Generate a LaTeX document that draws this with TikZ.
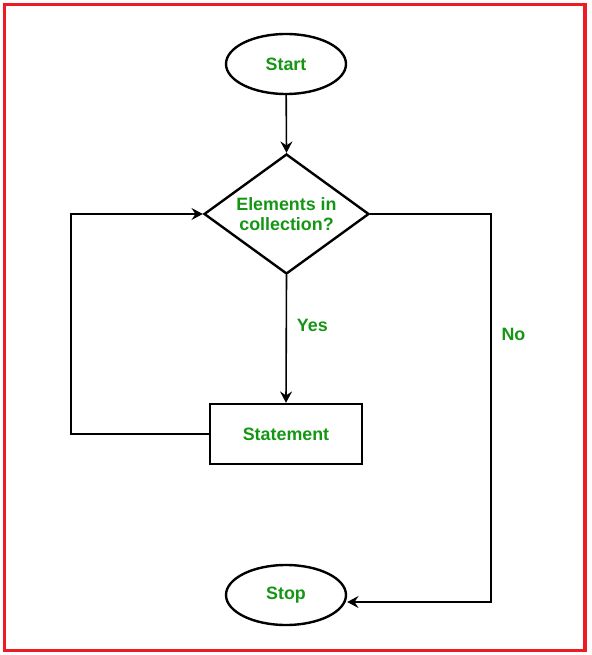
\documentclass[tikz,border=0pt]{standalone}
\usepackage{fontspec}
\setmainfont{Liberation Sans}
\usetikzlibrary{shapes.geometric,arrows.meta}
\definecolor{gfgreen}{RGB}{20,150,20}
\definecolor{framered}{RGB}{237,28,36}
\begin{document}
\begin{tikzpicture}[x=0.75pt,y=-0.75pt,
  txt/.style={font=\fontsize{13.4}{15.5}\selectfont\bfseries, text=gfgreen},
  term/.style={ellipse, draw=black, line width=1.8pt, minimum width=90pt, minimum height=45pt, inner sep=0pt, txt},
  cond/.style={diamond, draw=black, line width=1.8pt, minimum width=123.75pt, minimum height=90pt, inner sep=0pt, aspect=1.375, align=center, txt},
  stmt/.style={rectangle, draw=black, line width=1.8pt, minimum width=114pt, minimum height=45pt, txt},
  flow/.style={draw=black, line width=1.2pt, -{Stealth[length=8.5pt,width=9pt,inset=3pt]}}]
\useasboundingbox (0,0) rectangle (591,655);
\draw [framered, line width=2.3pt] (4.5,4.5) rectangle (585,650.5);
\node [term] (start) at (286,64) {Start};
\node [cond] (check) at (286.5,214) {Elements in\\collection?};
\node [stmt] (body) at (286,434) {Statement};
\node [term] (stop) at (286,595) {Stop};
\coordinate (loopbot) at (71,434);
\coordinate (looptop) at (71,214);
\coordinate (nocorner) at (491,214);
\coordinate (nobot) at (491,602);
\draw [flow] (start) -- (check.north);
\draw [flow] (check.south) -- node [txt, right, pos=0.39, xshift=4pt] {Yes} (body.north);
\draw [flow] (body.west) -- (loopbot) -- (looptop) -- (check.west);
\draw [flow] (check.east) -- (nocorner) -- node [txt, right, pos=0.31, xshift=4pt] {No} (nobot) -- (stop.east |- nobot);
\end{tikzpicture}
\end{document}
